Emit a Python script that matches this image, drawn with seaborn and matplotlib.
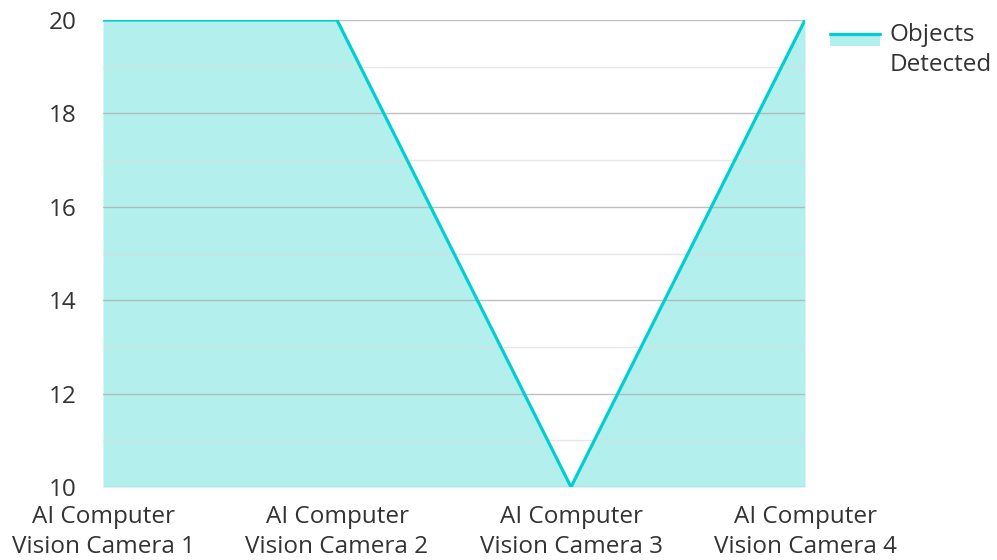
import matplotlib
matplotlib.use("Agg")
import matplotlib.pyplot as plt
import seaborn as sns
import pandas as pd
from matplotlib.lines import Line2D
from matplotlib.patches import Rectangle
from matplotlib.ticker import MultipleLocator
from matplotlib.legend_handler import HandlerBase

# chart data
cameras = ["AI Computer\nVision Camera 1", "AI Computer\nVision Camera 2",
           "AI Computer\nVision Camera 3", "AI Computer\nVision Camera 4"]
objects_detected = [20, 20, 10, 20]
y_ticks = [10, 12, 14, 16, 18, 20]

df = pd.DataFrame({"pos": range(len(cameras)), "objects": objects_detected})

sns.set_style("white")
plt.rcParams["font.family"] = ["Open Sans", "DejaVu Sans"]

line_color = "#00CED1"
fill_color = "#B2EFED"
text_color = "#333333"
fs = 17.5


class TopHandler(HandlerBase):
    # legend key sits beside the first line of a two-line label
    def create_artists(self, legend, orig_handle, xdescent, ydescent,
                       width, height, fontsize, trans):
        c = -ydescent + height / 2 + 8
        rect = Rectangle((-xdescent, c - 4.7), width, 9.4, facecolor=fill_color,
                         edgecolor="none", transform=trans)
        line = Line2D([-xdescent, -xdescent + width], [c + 3.8, c + 3.8],
                      color=line_color, lw=2.3, transform=trans)
        return [rect, line]


fig = plt.figure(figsize=(9.97, 5.6), dpi=100)
ax = fig.add_axes([103 / 997, 1 - 487 / 560, 702 / 997, 467 / 560])

ax.fill_between(df["pos"], 10, df["objects"], color=fill_color, lw=0, zorder=1)
sns.lineplot(data=df, x="pos", y="objects", ax=ax, color=line_color, lw=2.3,
             zorder=3, label="Objects\nDetected", legend=False)

ax.set_xlim(0, len(cameras) - 1)
ax.set_ylim(10, 20)
ax.set_yticks(y_ticks)
ax.yaxis.set_minor_locator(MultipleLocator(1))
ax.grid(which="major", axis="y", color="#b0b0b0", lw=1, alpha=0.8)
ax.grid(which="minor", axis="y", color="#dddddd", lw=1, alpha=0.7)
ax.set_axisbelow(False)

ax.set_xticks(df["pos"])
ax.set_xticklabels(cameras, fontsize=fs, color=text_color, linespacing=1.33)
ax.tick_params(axis="y", labelsize=fs, labelcolor=text_color, length=0, pad=19)
ax.tick_params(axis="x", length=0, pad=13)
ax.tick_params(which="minor", length=0)
ax.set_xlabel("")
ax.set_ylabel("")
for s in ax.spines.values():
    s.set_visible(False)

leg = fig.legend([ax.lines[0]], ["Objects\nDetected"], loc="upper left",
                 bbox_to_anchor=(830 / 997, 1 - 23 / 560), frameon=False,
                 fontsize=fs, handlelength=2.06, handletextpad=0.4,
                 borderpad=0, borderaxespad=0,
                 handler_map={Line2D: TopHandler()})
for t in leg.get_texts():
    t.set_color(text_color)
    t.set_linespacing(1.33)

fig.savefig("out.png", dpi=100)
